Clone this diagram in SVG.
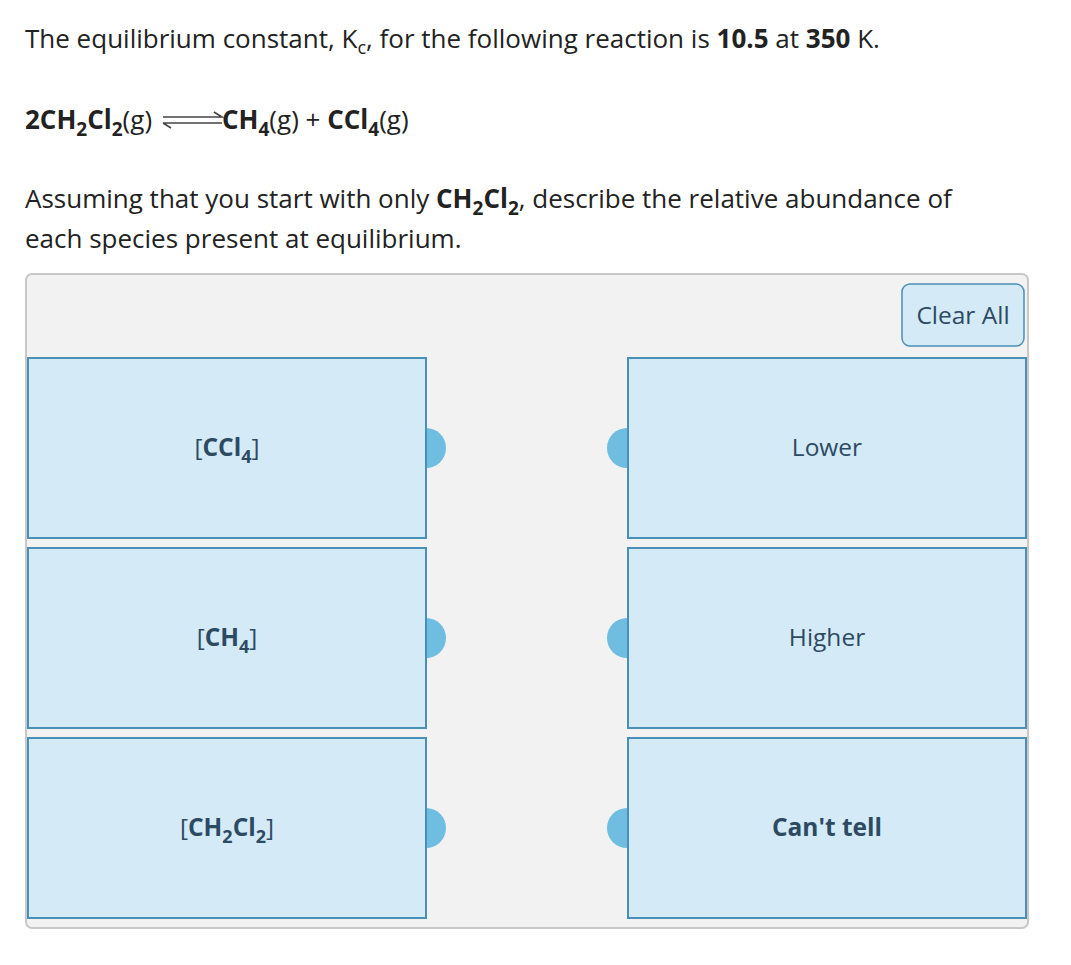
<svg xmlns="http://www.w3.org/2000/svg" width="1071" height="965" viewBox="0 0 1071 965">
<style>
text{font-family:"Open Sans","Noto Sans",sans-serif;fill:#222}
.q{font-size:26px}
.b{font-weight:bold}
.box{fill:#d4eaf7;stroke:#4a8fb5;stroke-width:2}
.lbl{font-size:24.5px;fill:#2d4a63;text-anchor:middle}
.dot{fill:#6fbde0}
</style>
<rect width="1071" height="965" fill="#fff"/>
<text class="q" x="25" y="48">The equilibrium constant, K<tspan font-size="18" dy="6">c</tspan><tspan dy="-6">, for the following reaction is </tspan><tspan class="b">10.5</tspan> at <tspan class="b">350</tspan> K.</text>
<text class="q" x="25" y="129"><tspan class="b">2CH<tspan font-size="19" dy="7">2</tspan><tspan dy="-7">Cl</tspan><tspan font-size="19" dy="7">2</tspan></tspan><tspan dy="-7">(g)</tspan></text>
<g id="arrow" stroke="#444" stroke-width="1.6" fill="none">
<path d="M163 117 H222 L214 112"/><path d="M163 123 H222 M163 123 L171 128"/>
</g>
<text class="q" x="222" y="129"><tspan class="b">CH<tspan font-size="19" dy="7">4</tspan></tspan><tspan dy="-7">(g) + </tspan><tspan class="b">CCl<tspan font-size="19" dy="7">4</tspan></tspan><tspan dy="-7">(g)</tspan></text>
<text class="q" x="25" y="208">Assuming that you start with only <tspan class="b">CH<tspan font-size="19" dy="7">2</tspan><tspan dy="-7">Cl</tspan><tspan font-size="19" dy="7">2</tspan></tspan><tspan dy="-7">, describe the relative abundance of</tspan></text>
<text class="q" x="25" y="248">each species present at equilibrium.</text>
<rect x="26" y="274" width="1002" height="654" rx="6" fill="#f2f2f2" stroke="#c8c8c8" stroke-width="2"/>
<g id="clear"><rect x="902" y="284" width="122" height="62" rx="8" fill="#d4eaf7" stroke="#4a8fb5" stroke-width="1.5"/><text class="lbl" x="963" y="324">Clear All</text></g>
<g id="connectors">
<circle class="dot" cx="426" cy="448" r="20"/><circle class="dot" cx="627" cy="448" r="20"/>
<circle class="dot" cx="426" cy="638" r="20"/><circle class="dot" cx="627" cy="638" r="20"/>
<circle class="dot" cx="426" cy="828" r="20"/><circle class="dot" cx="627" cy="828" r="20"/>
</g>
<g id="ccl4"><rect class="box" x="28" y="358" width="398" height="180"/><text class="lbl" x="227" y="456">[<tspan class="b">CCl<tspan font-size="18" dy="7">4</tspan></tspan><tspan dy="-7">]</tspan></text></g>
<g id="ch4"><rect class="box" x="28" y="548" width="398" height="180"/><text class="lbl" x="227" y="646">[<tspan class="b">CH<tspan font-size="18" dy="7">4</tspan></tspan><tspan dy="-7">]</tspan></text></g>
<g id="ch2cl2"><rect class="box" x="28" y="738" width="398" height="180"/><text class="lbl" x="227" y="836">[<tspan class="b">CH<tspan font-size="18" dy="7">2</tspan><tspan dy="-7">Cl</tspan><tspan font-size="18" dy="7">2</tspan></tspan><tspan dy="-7">]</tspan></text></g>
<g id="lower"><rect class="box" x="628" y="358" width="398" height="180"/><text class="lbl" x="827" y="456">Lower</text></g>
<g id="higher"><rect class="box" x="628" y="548" width="398" height="180"/><text class="lbl" x="827" y="646">Higher</text></g>
<g id="cant"><rect class="box" x="628" y="738" width="398" height="180"/><text class="lbl b" x="827" y="836">Can't tell</text></g>
</svg>
